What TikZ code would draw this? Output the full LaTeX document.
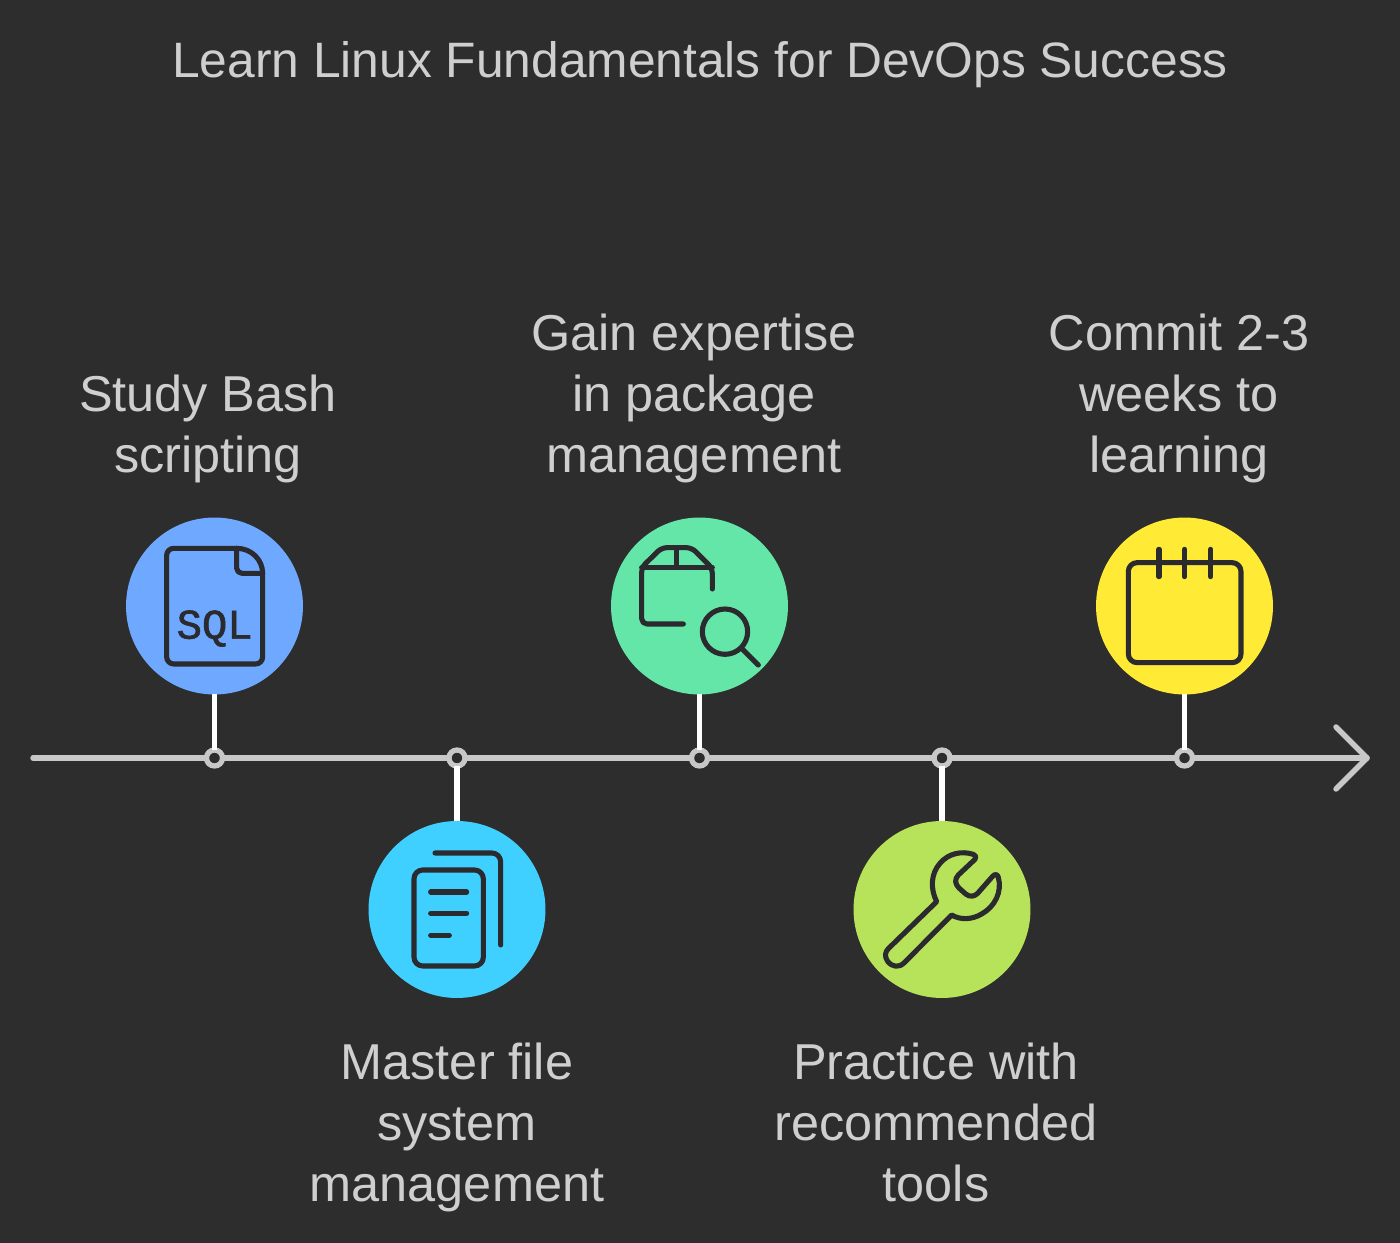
\documentclass[tikz,border=0pt]{standalone}
\usepackage{fontspec}
\setmainfont{Liberation Sans}
\newfontfamily\sqlfont[FakeBold=1.5]{Liberation Mono}
\definecolor{bgdark}{HTML}{2D2D2D}
\definecolor{inkdark}{HTML}{2B2B2F}
\definecolor{axisgrey}{HTML}{C8C8C8}
\definecolor{textgrey}{HTML}{CFCFCF}
\definecolor{stepblue}{HTML}{6EA8FF}
\definecolor{stepcyan}{HTML}{40D0FF}
\definecolor{stepgreen}{HTML}{64E6A8}
\definecolor{steplime}{HTML}{B6E35A}
\definecolor{stepyellow}{HTML}{FFEB35}
\tikzset{
  disc/.style={circle,inner sep=0pt,outer sep=0pt,minimum size=3.54cm},
  dot/.style={draw=axisgrey,circle,inner sep=0pt,outer sep=0pt,line width=3pt,fill=bgdark,minimum size=0.32cm},
  axisline/.style={axisgrey,line width=3.1pt,line cap=round,line join=round},
  stem/.style={white,line width=2.9pt},
  icon/.style={inkdark,line width=2.9pt,line cap=round,line join=round},
  label/.style={text=textgrey,align=center,font=\fontsize{28.7}{34.7}\selectfont},
  headline/.style={text=textgrey,font=\fontsize{28.3}{34.7}\selectfont}
}
\begin{document}
\begin{tikzpicture}[x=0.02cm,y=-0.02cm]
  \useasboundingbox (0,0) rectangle (1400,1243);
  \fill[bgdark] (0,0) rectangle (1400,1243);

  \node[headline] (title) at (700,65) {Learn Linux Fundamentals for DevOps Success};

  % timeline
  \coordinate (axisstart) at (33,758);
  \coordinate (axisend) at (1367,758);
  \coordinate (headtop) at (1336,727);
  \coordinate (headbottom) at (1336,789);
  \draw[axisline] (axisstart) -- (axisend);
  \draw[axisline] (headtop) -- (axisend) -- (headbottom);

  % steps: discs above and below the line
  \foreach \n/\x/\y/\c in {a/214.5/606/stepblue,b/457/909.5/stepcyan,c/699.5/606/stepgreen,d/942/909.5/steplime,e/1184.5/606/stepyellow}
  {
    \node[disc,fill=\c] (disc\n) at (\x,\y) {};
    \node[dot] (dot\n) at (\x,758) {};
  }
  \foreach \n/\a/\b in {a/south/north,c/south/north,e/south/north,b/north/south,d/north/south}
  {
    \draw[stem] (disc\n.\a) -- (dot\n.\b);
  }

  % labels
  \node[label,anchor=south] (studylabel) at (208,489) {Study Bash\\scripting};
  \node[label,anchor=south] (gainlabel) at (694,489) {Gain expertise\\in package\\management};
  \node[label,anchor=south] (commitlabel) at (1179,489) {Commit 2-3\\weeks to\\learning};
  \node[label,anchor=north] (masterlabel) at (457,1037) {Master file\\system\\management};
  \node[label,anchor=north] (practicelabel) at (936,1037) {Practice with\\recommended\\tools};

  % sql file icon
  \begin{scope}[shift={(110,510)},scale=0.3333]
    \draw[icon,rounded corners=4pt] (380,115) -- (170,115) -- (170,462) -- (458,462) -- (458,190);
    \draw[icon] (380,115) .. controls (425,115) and (458,150) .. (458,190);
    \draw[icon,rounded corners=3pt] (380,115) -- (380,190) -- (458,190);
    \node[inkdark,font=\sqlfont\fontsize{24}{24}\selectfont,anchor=base] (sqltext) at (314,386) {SQL};
  \end{scope}

  % package search icon
  \begin{scope}[shift={(600,510)},scale=0.3333]
    \draw[icon,rounded corners=3pt] (337,237) -- (337,175) -- (275,113) -- (185,113) -- (125,172) -- (125,342) -- (250,342);
    \draw[icon] (125,172) -- (337,172);
    \draw[icon] (230,113) -- (230,172);
    \draw[icon] (375,365) circle (68);
    \draw[icon] (425,415) -- (475,465);
  \end{scope}

  % documents icon
  \begin{scope}[shift={(360,740)},scale=0.3333]
    \draw[icon,rounded corners=5pt] (162,390) rectangle (370,678);
    \draw[icon,rounded corners=5pt] (225,339) -- (422,339) -- (422,615);
    \draw[icon] (212,456) -- (320,456);
    \draw[icon] (212,520) -- (320,520);
    \draw[icon] (212,586) -- (268,586);
  \end{scope}

  % wrench icon
  \begin{scope}[shift={(845,740)},scale=0.3333]
    \draw[icon] (275,485) .. controls (255,445) and (258,400) .. (285,370)
      .. controls (310,340) and (350,332) .. (385,343)
      .. controls (393,346) and (395,352) .. (390,358) -- (340,405)
      .. controls (328,418) and (330,432) .. (342,444) -- (362,462)
      .. controls (375,472) and (388,470) .. (398,460) -- (442,410)
      .. controls (450,400) and (458,403) .. (460,412)
      .. controls (472,455) and (450,500) .. (410,522)
      .. controls (380,540) and (345,540) .. (320,525)
      -- (178,668) .. controls (162,684) and (142,682) .. (128,664)
      .. controls (118,650) and (120,636) .. (130,626) -- cycle;
  \end{scope}

  % calendar icon
  \begin{scope}[shift={(1085,510)},scale=0.3333]
    \draw[icon,rounded corners=5pt] (130,158) rectangle (468,458);
    \foreach \x in {222,299,377}
    {
      \draw[icon] (\x,118) -- (\x,200);
    }
  \end{scope}
\end{tikzpicture}
\end{document}
